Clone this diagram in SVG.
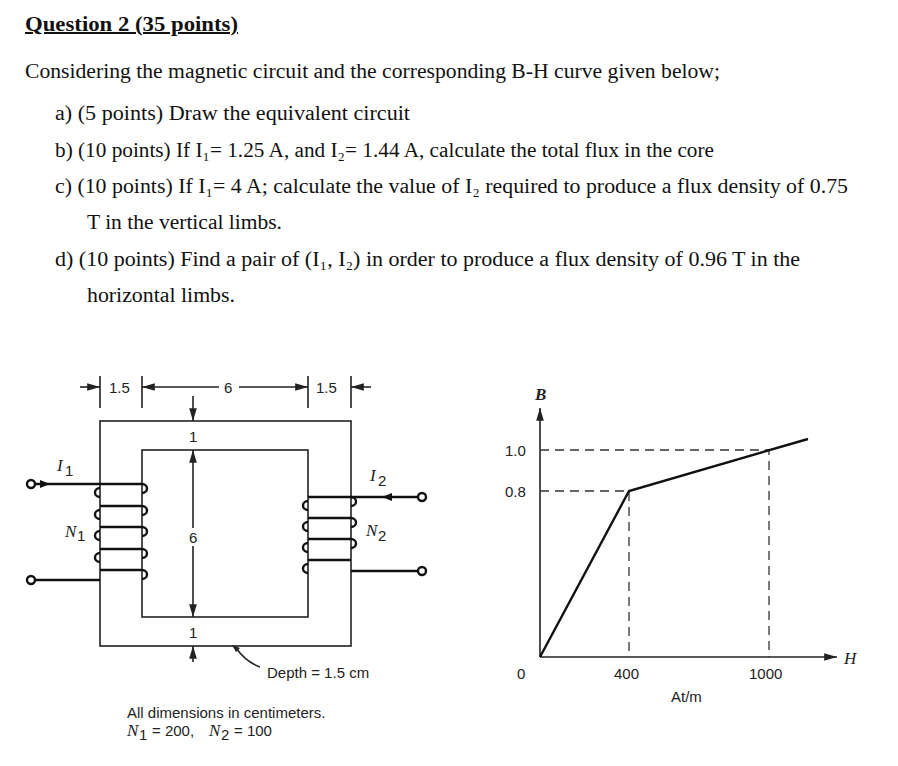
<svg xmlns="http://www.w3.org/2000/svg" width="898" height="766" viewBox="0 0 898 766">
<style>
.t{font-family:"Liberation Serif",serif;font-size:20px;fill:#111}
.s{font-family:"Liberation Sans",sans-serif;font-size:15px;fill:#222}
.i{font-family:"Liberation Serif",serif;font-style:italic;font-size:17px;fill:#222}
.l{stroke:#222;stroke-width:1.6;fill:none}
.w{stroke:#111;stroke-width:2.4;fill:none}
.d{stroke:#333;stroke-width:1.3;fill:none;stroke-dasharray:9 6}
</style>
<defs><marker id="a" viewBox="0 0 10 10" refX="10" refY="5" markerWidth="8" markerHeight="8" orient="auto-start-reverse"><path d="M0,2 L10,5 L0,8 Z" fill="#222"/></marker></defs>
<rect width="898" height="766" fill="#fff"/>
<g id="text">
<text class="t" x="25" y="31" font-weight="bold" text-decoration="underline" textLength="213" lengthAdjust="spacingAndGlyphs">Question 2 (35 points)</text>
<text class="t" x="25" y="78" textLength="695" lengthAdjust="spacingAndGlyphs">Considering the magnetic circuit and the corresponding B-H curve given below;</text>
<text class="t" x="55" y="120" textLength="355" lengthAdjust="spacingAndGlyphs">a) (5 points) Draw the equivalent circuit</text>
<text class="t" x="55" y="157" textLength="659" lengthAdjust="spacingAndGlyphs">b) (10 points) If I₁= 1.25 A, and I₂= 1.44 A, calculate the total flux in the core</text>
<text class="t" x="55" y="193" textLength="793" lengthAdjust="spacingAndGlyphs">c)  (10 points) If I₁= 4 A; calculate the value of I₂ required to produce a flux density of 0.75</text>
<text class="t" x="87" y="229" textLength="195" lengthAdjust="spacingAndGlyphs">T in the vertical limbs.</text>
<text class="t" x="55" y="266" textLength="745" lengthAdjust="spacingAndGlyphs">d)  (10 points) Find a pair of (I₁, I₂) in order to produce a flux density of 0.96 T in the</text>
<text class="t" x="87" y="302" textLength="148" lengthAdjust="spacingAndGlyphs">horizontal limbs.</text>
</g>
<g id="core">
<rect class="l" x="100" y="421" width="251" height="225"/>
<rect class="l" x="142" y="450" width="166" height="167"/>
</g>
<g id="dimensions">
<path class="l" d="M100,376V408M142,376V408M308,376V408M351,376V408"/>
<line class="l" x1="80" y1="387" x2="100" y2="387" marker-end="url(#a)"/>
<line class="l" x1="371" y1="387" x2="351" y2="387" marker-end="url(#a)"/>
<line class="l" x1="220" y1="387" x2="142" y2="387" marker-end="url(#a)"/>
<line class="l" x1="238" y1="387" x2="308" y2="387" marker-end="url(#a)"/>
<rect x="219" y="378" width="20" height="18" fill="#fff"/>
<text class="s" x="224" y="393">6</text>
<text class="s" x="109" y="393">1.5</text>
<text class="s" x="316" y="393">1.5</text>
<line class="l" x1="193" y1="396" x2="193" y2="421" marker-end="url(#a)"/>
<text class="s" x="189" y="442">1</text>
<line class="l" x1="193" y1="528" x2="193" y2="450" marker-end="url(#a)"/>
<line class="l" x1="193" y1="546" x2="193" y2="617" marker-end="url(#a)"/>
<text class="s" x="189" y="543">6</text>
<text class="s" x="189" y="638">1</text>
<line class="l" x1="193" y1="662" x2="193" y2="646" marker-end="url(#a)"/>
<path class="l" d="M260,667 Q246,662 236,648"/>
<path d="M232,645 L240,648 L236,652 Z" fill="#222"/>
<text class="s" x="267" y="678">Depth = 1.5 cm</text>
<text class="s" x="127" y="718">All dimensions in centimeters.</text>
<text class="i" x="127" y="736">N</text><text class="s" x="139" y="740" font-size="11">1</text>
<text class="s" x="152" y="736">= 200,</text>
<text class="i" x="209" y="736">N</text><text class="s" x="221" y="740" font-size="11">2</text>
<text class="s" x="234" y="736">= 100</text>
</g>
<g id="winding1">
<circle class="w" cx="31" cy="484" r="4" fill="#fff"/>
<circle class="w" cx="31" cy="580" r="4" fill="#fff"/>
<path class="w" d="M35,484H142M35,580H100"/>
<path d="M40,480 L50,484 L40,488 Z" fill="#111"/>
<path class="w" d="M100,506H142M100,527H142M100,549H142M100,570H142"/>
<path class="w" d="M100,488a5,4.5 0 0 0 0,9M100,510a5,4.5 0 0 0 0,9M100,531a5,4.5 0 0 0 0,9M100,553a5,4.5 0 0 0 0,9"/>
<path class="w" d="M142,484a5,4.5 0 0 1 0,9M142,506a5,4.5 0 0 1 0,9M142,527a5,4.5 0 0 1 0,9M142,549a5,4.5 0 0 1 0,9M142,570a5,4.5 0 0 1 0,9"/>
<text class="i" x="57" y="471">I</text><text class="s" x="65" y="476" font-size="11">1</text>
<text class="i" x="65" y="537">N</text><text class="s" x="77" y="541" font-size="11">1</text>
</g>
<g id="winding2">
<circle class="w" cx="422" cy="497" r="4" fill="#fff"/>
<circle class="w" cx="422" cy="571" r="4" fill="#fff"/>
<path class="w" d="M418,497H308M418,571H351"/>
<path d="M392,493 L382,497 L392,501 Z" fill="#111"/>
<path class="w" d="M308,518H351M308,539H351M308,560H351"/>
<path class="w" d="M308,501a5,4.5 0 0 0 0,9M308,522a5,4.5 0 0 0 0,9M308,543a5,4.5 0 0 0 0,9M308,564a5,4.5 0 0 0 0,9"/>
<path class="w" d="M351,497a5,4.5 0 0 1 0,9M351,518a5,4.5 0 0 1 0,9M351,539a5,4.5 0 0 1 0,9"/>
<text class="i" x="370" y="481">I</text><text class="s" x="378" y="486" font-size="11">2</text>
<text class="i" x="366" y="536">N</text><text class="s" x="378" y="541" font-size="11">2</text>
</g>
<g id="bh">
<line class="l" x1="540" y1="657" x2="540" y2="408" marker-end="url(#a)"/>
<line class="l" x1="540" y1="657" x2="837" y2="657" marker-end="url(#a)"/>
<path class="d" d="M540,450H769V657M540,491H629V657"/>
<polyline class="w" stroke-width="3" points="540,657 629,491 808,439"/>
<text class="i" x="535" y="400" font-weight="bold" font-size="15">B</text>
<text class="i" x="844" y="664" font-size="15">H</text>
<text class="s" x="505" y="456">1.0</text>
<text class="s" x="505" y="497">0.8</text>
<text class="s" x="517" y="679">0</text>
<text class="s" x="614" y="679">400</text>
<text class="s" x="749" y="679">1000</text>
<text class="s" x="671" y="702">At/m</text>
</g>
</svg>
